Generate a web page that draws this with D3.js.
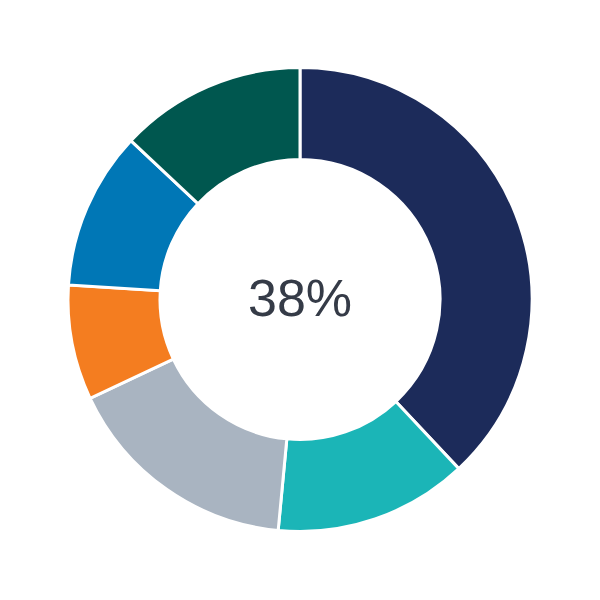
<!DOCTYPE html>
<html>
<head>
<meta charset="utf-8">
<script src="https://cdn.jsdelivr.net/npm/d3@7"></script>
<style>
  body { margin: 0; background: #fff; }
  .center-label { font-family: "Liberation Sans", Arial, sans-serif; fill: #353b47; }
</style>
</head>
<body>
<script>
// slice data, clockwise from 12 o'clock
var categories = ["A", "B", "C", "D", "E", "F"];
var values     = [38, 13.5, 16.5, 8, 11, 13];
var colors     = ["#1c2b5a", "#1bb5b7", "#a9b4c1", "#f47d20", "#0077b6", "#00574f"];
var centerText = "38%";

var width = 600, height = 600
  , outerR = 232
  , innerR = 140;

var data = categories.map(function(c, i) { return {cat: c, value: values[i]}; });

var color = d3.scaleOrdinal()
    .domain(categories)
    .range(colors);

var svg = d3.select("body").append("svg")
    .attr("width", width)
    .attr("height", height)
  .append("g")
    .attr("transform", "translate(300,299.5)");

var pie = d3.pie()
    .sort(null)
    .value(function(d) { return d.value; });

var arc = d3.arc()
    .innerRadius(innerR)
    .outerRadius(outerR);

svg.selectAll(".slice")
    .data(pie(data))
  .enter().append("path")
    .attr("class", "slice")
    .attr("d", arc)
    .attr("fill", function(d) { return color(d.data.cat); })
    .attr("stroke", "#fff")
    .attr("stroke-width", 3);

svg.append("text")
    .attr("class", "center-label")
    .attr("y", 16)
    .attr("text-anchor", "middle")
    .style("font-size", "52px")
    .text(centerText);
</script>
</body>
</html>
